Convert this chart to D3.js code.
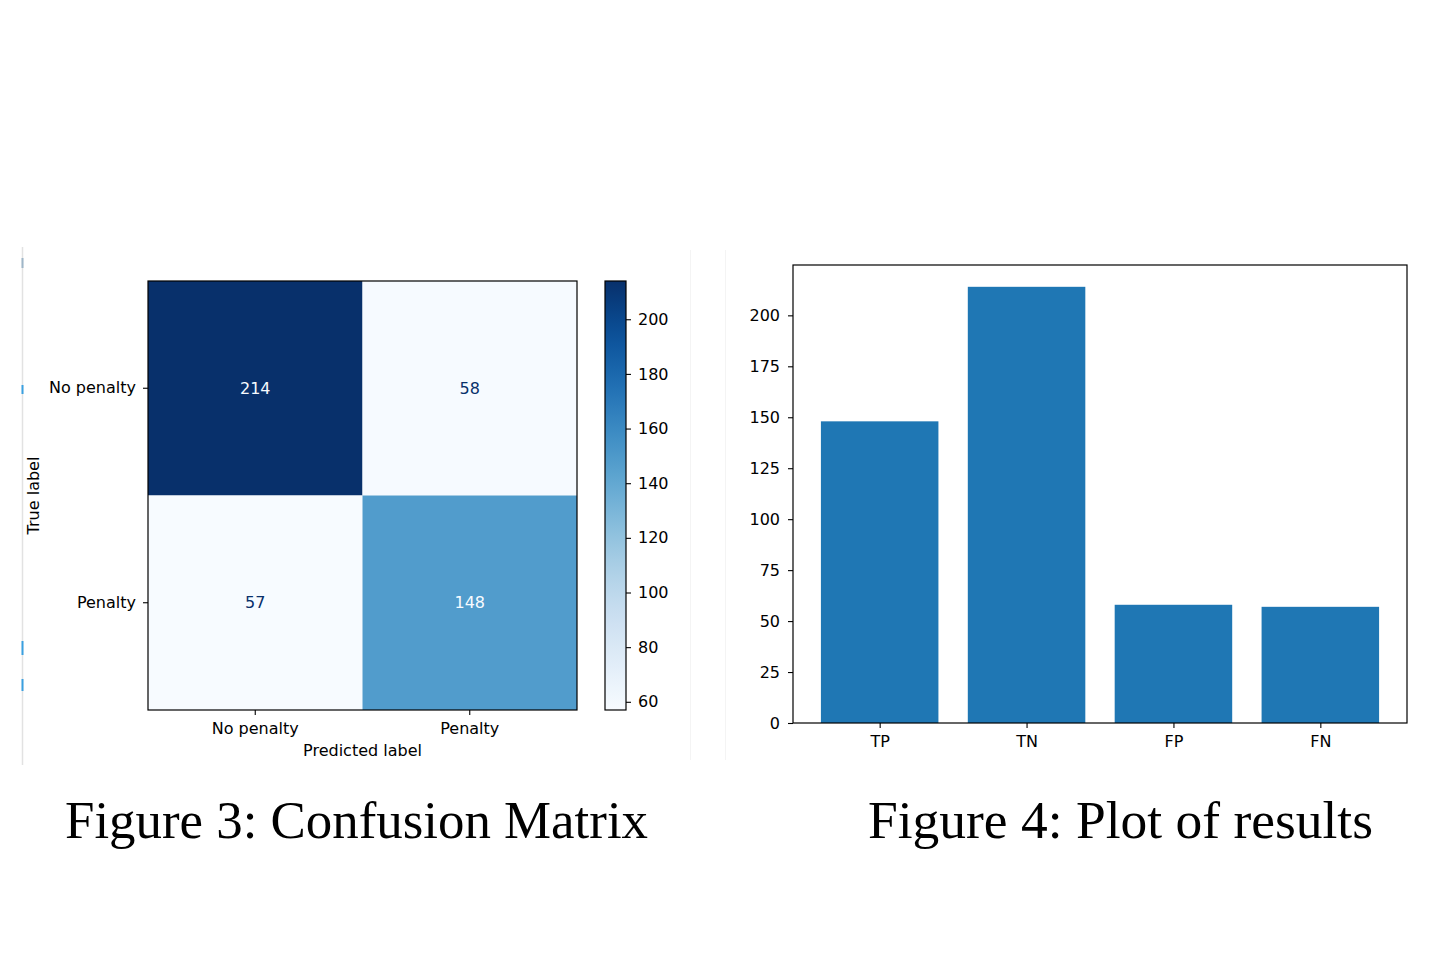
<!DOCTYPE html>
<html>
<head>
<meta charset="utf-8">
<script src="https://cdn.jsdelivr.net/npm/d3@7"></script>
<style>
  html, body { margin: 0; padding: 0; background: #fff; }
  svg { display: block; }
  .tick text { font-family: "DejaVu Sans", sans-serif; font-size: 16px; fill: #000; }
  .tick line { stroke: #000; stroke-width: 1.1; }
  .domain { stroke: none; }
  .caption { font-family: "Liberation Serif", "DejaVu Serif", serif; font-size: 52px; fill: #000; }
</style>
</head>
<body>
<script>
  // confusion matrix data
  const classLabels = ["No penalty", "Penalty"];
  const matrix = [
    [214, 58],
    [57, 148]
  ];
  const colorbarTicks = [60, 80, 100, 120, 140, 160, 180, 200];

  // bar chart data
  const outcomes = ["TP", "TN", "FP", "FN"];
  const counts = [148, 214, 58, 57];
  const barTicks = [0, 25, 50, 75, 100, 125, 150, 175, 200];

  const captions = ["Figure 3: Confusion Matrix", "Figure 4: Plot of results"];

  const W = 1440, H = 960;
  const svg = d3.select("body").append("svg")
    .attr("width", W)
    .attr("height", H);

  // faint edges left over from the pasted images
  const edges = svg.append("g");
  edges.append("line").attr("x1", 22.5).attr("x2", 22.5).attr("y1", 247).attr("y2", 765)
    .attr("stroke", "#e2e2e2").attr("stroke-width", 1.5);
  edges.append("line").attr("x1", 690.5).attr("x2", 690.5).attr("y1", 250).attr("y2", 760)
    .attr("stroke", "#f4f4f4");
  edges.append("line").attr("x1", 725.5).attr("x2", 725.5).attr("y1", 250).attr("y2", 760)
    .attr("stroke", "#f4f4f4");
  [[258, 268, "#9fb6c8"], [385, 394, "#3aa0e0"], [641, 655, "#3aa0e0"], [679, 691, "#3aa0e0"]]
    .forEach(m => edges.append("line").attr("x1", 22.5).attr("x2", 22.5)
      .attr("y1", m[0]).attr("y2", m[1]).attr("stroke", m[2]).attr("stroke-width", 2));

  // ---------- confusion matrix ----------
  const cm = { left: 148, top: 281, size: 429 };
  const vmin = d3.min(matrix.flat()), vmax = d3.max(matrix.flat());
  const color = d3.scaleSequential(d3.interpolateBlues).domain([vmin, vmax]);

  const cx = d3.scaleBand().domain(classLabels).range([cm.left, cm.left + cm.size]);
  const cy = d3.scaleBand().domain(classLabels).range([cm.top, cm.top + cm.size]);

  const cells = [];
  matrix.forEach((row, i) => row.forEach((v, j) => cells.push({ t: classLabels[i], p: classLabels[j], v })));

  const cmG = svg.append("g");
  cmG.selectAll("rect.cell")
    .data(cells)
    .enter()
    .append("rect")
    .attr("class", "cell")
    .attr("x", d => cx(d.p))
    .attr("y", d => cy(d.t))
    .attr("width", cx.bandwidth())
    .attr("height", cy.bandwidth())
    .attr("fill", d => color(d.v));

  const thresh = (vmin + vmax) / 2;
  cmG.selectAll("text.val")
    .data(cells)
    .enter()
    .append("text")
    .attr("class", "val")
    .attr("x", d => cx(d.p) + cx.bandwidth() / 2)
    .attr("y", d => cy(d.t) + cy.bandwidth() / 2)
    .attr("dy", "0.35em")
    .attr("text-anchor", "middle")
    .style("font-family", "DejaVu Sans, sans-serif")
    .style("font-size", "16px")
    .attr("fill", d => d.v > thresh ? color(vmin) : color(vmax))
    .text(d => d.v);

  cmG.append("rect")
    .attr("x", cm.left).attr("y", cm.top)
    .attr("width", cm.size).attr("height", cm.size)
    .attr("fill", "none").attr("stroke", "#000").attr("stroke-width", 1.2);

  cmG.append("g")
    .attr("transform", `translate(${cm.left},0)`)
    .call(d3.axisLeft(cy).tickSize(5).tickPadding(7));
  cmG.append("g")
    .attr("transform", `translate(0,${cm.top + cm.size})`)
    .call(d3.axisBottom(cx).tickSize(5).tickPadding(8));

  cmG.append("text")
    .attr("x", cm.left + cm.size / 2)
    .attr("y", 756)
    .attr("text-anchor", "middle")
    .style("font-family", "DejaVu Sans, sans-serif")
    .style("font-size", "16px")
    .text("Predicted label");
  cmG.append("text")
    .attr("transform", `translate(39,${cm.top + cm.size / 2}) rotate(-90)`)
    .attr("text-anchor", "middle")
    .style("font-family", "DejaVu Sans, sans-serif")
    .style("font-size", "16px")
    .text("True label");

  // colorbar
  const cb = { left: 605, width: 21 };
  const cbScale = d3.scaleLinear().domain([vmin, vmax]).range([cm.top + cm.size, cm.top]);
  const defs = svg.append("defs");
  const grad = defs.append("linearGradient")
    .attr("id", "blues").attr("x1", 0).attr("y1", 1).attr("x2", 0).attr("y2", 0);
  d3.range(0, 1.0001, 0.05).forEach(t => {
    grad.append("stop").attr("offset", t).attr("stop-color", d3.interpolateBlues(t));
  });
  svg.append("rect")
    .attr("x", cb.left).attr("y", cm.top)
    .attr("width", cb.width).attr("height", cm.size)
    .attr("fill", "url(#blues)")
    .attr("stroke", "#000").attr("stroke-width", 1.2);
  svg.append("g")
    .attr("transform", `translate(${cb.left + cb.width},0)`)
    .call(d3.axisRight(cbScale).tickValues(colorbarTicks).tickSize(5).tickPadding(7));

  // ---------- bar chart ----------
  const bc = { left: 793, right: 1407, top: 265, bottom: 723 };
  const bx = d3.scaleLinear().domain([-0.59, outcomes.length - 1 + 0.59]).range([bc.left, bc.right]);
  const by = d3.scaleLinear().domain([0, d3.max(counts) * 1.05]).range([bc.bottom, bc.top]);
  const barW = 0.8;

  const bcG = svg.append("g");
  bcG.selectAll("rect.bar")
    .data(outcomes.map((k, i) => ({ k, i, v: counts[i] })))
    .enter()
    .append("rect")
    .attr("class", "bar")
    .attr("x", d => bx(d.i - barW / 2))
    .attr("width", d => bx(d.i + barW / 2) - bx(d.i - barW / 2))
    .attr("y", d => by(d.v))
    .attr("height", d => by(0) - by(d.v))
    .attr("fill", "#1f77b4");

  bcG.append("rect")
    .attr("x", bc.left).attr("y", bc.top)
    .attr("width", bc.right - bc.left).attr("height", bc.bottom - bc.top)
    .attr("fill", "none").attr("stroke", "#000").attr("stroke-width", 1.2);

  bcG.append("g")
    .attr("transform", `translate(${bc.left},0)`)
    .call(d3.axisLeft(by).tickValues(barTicks).tickSize(5).tickPadding(8));
  bcG.append("g")
    .attr("transform", `translate(0,${bc.bottom})`)
    .call(d3.axisBottom(bx).tickValues(d3.range(outcomes.length))
      .tickFormat(i => outcomes[i]).tickSize(5).tickPadding(8));

  // ---------- captions ----------
  const capPos = [[65, 648], [868, 1373]];
  svg.selectAll("text.caption")
    .data(captions)
    .enter()
    .append("text")
    .attr("class", "caption")
    .attr("x", (d, i) => capPos[i][0])
    .attr("y", 838)
    .attr("textLength", (d, i) => capPos[i][1] - capPos[i][0])
    .attr("lengthAdjust", "spacingAndGlyphs")
    .text(d => d);
</script>
</body>
</html>
